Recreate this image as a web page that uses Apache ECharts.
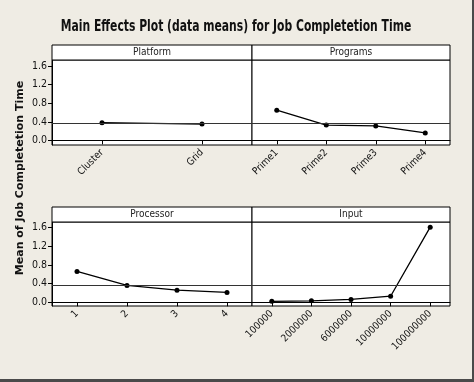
<!DOCTYPE html>
<html>
<head>
<meta charset="utf-8">
<script src="https://cdn.jsdelivr.net/npm/echarts@6/dist/echarts.min.js"></script>
<style>
html,body{margin:0;padding:0;background:#efece4;}
#c{width:474px;height:382px;}
</style>
</head>
<body>
<div id="c"></div>
<script>
var titleText = 'Main Effects Plot (data means) for Job Completetion Time';
var yAxisTitle = 'Mean of Job Completetion Time';
var panelNames = ['Platform', 'Programs', 'Processor', 'Input'];
var platformCats = ['Cluster', 'Grid'];
var platformMeans = [0.38, 0.35];
var programCats = ['Prime1', 'Prime2', 'Prime3', 'Prime4'];
var programMeans = [0.65, 0.33, 0.31, 0.16];
var processorCats = ['1', '2', '3', '4'];
var processorMeans = [0.66, 0.36, 0.26, 0.21];
var inputCats = ['100000', '2000000', '6000000', '10000000', '100000000'];
var inputMeans = [0.02, 0.03, 0.06, 0.13, 1.61];
var grandMean = 0.36;
var yTicks = [0, 0.4, 0.8, 1.2, 1.6];

var chart = echarts.init(document.getElementById('c'), null, {renderer: 'canvas'});
var FONT = '"DejaVu Sans Condensed", "DejaVu Sans", sans-serif';

var grids = [
  {left: 52, top: 60, width: 200, height: 85},
  {left: 252, top: 60, width: 198, height: 85},
  {left: 52, top: 222, width: 200, height: 84},
  {left: 252, top: 222, width: 198, height: 84}
];
var yRanges = [[-0.1, 1.73], [-0.1, 1.73], [-0.08, 1.72], [-0.08, 1.72]];
var cats = [platformCats, programCats, processorCats, inputCats];
var vals = [platformMeans, programMeans, processorMeans, inputMeans];

var xAxes = [], yAxes = [], series = [], graphics = [];
for (var i = 0; i < 4; i++) {
  grids[i].show = true;
  grids[i].borderColor = '#000';
  grids[i].borderWidth = 1;
  grids[i].backgroundColor = '#fff';
  xAxes.push({
    gridIndex: i, type: 'category', data: cats[i], boundaryGap: true,
    axisLine: {show: true, lineStyle: {color: '#000', width: 1}},
    axisTick: {show: true, alignWithLabel: true, length: 4, lineStyle: {color: '#000'}},
    axisLabel: {rotate: 45, margin: 6, fontSize: 10, fontFamily: FONT, color: '#111', interval: 0},
    splitLine: {show: false}
  });
  var leftCol = (i % 2 === 0);
  yAxes.push({
    gridIndex: i, type: 'value', min: yRanges[i][0], max: yRanges[i][1],
    axisLine: {show: leftCol, lineStyle: {color: '#000'}},
    axisTick: {show: leftCol, length: 4, customValues: yTicks, lineStyle: {color: '#000'}},
    axisLabel: {show: leftCol, customValues: yTicks, fontSize: 10.5, fontFamily: FONT, color: '#111', margin: 5,
      formatter: function (v) { return v.toFixed(1); }},
    splitLine: {show: false}
  });
  series.push({
    type: 'line', xAxisIndex: i, yAxisIndex: i, data: vals[i],
    symbol: 'circle', symbolSize: 5,
    lineStyle: {color: '#000', width: 1.3},
    itemStyle: {color: '#000'},
    silent: true,
    markLine: {
      silent: true, symbol: 'none', label: {show: false},
      lineStyle: {color: '#333', width: 1, type: 'solid'},
      data: [{yAxis: grandMean}]
    }
  });
  graphics.push({
    type: 'rect',
    shape: {x: grids[i].left, y: grids[i].top - 15, width: grids[i].width, height: 15},
    style: {fill: '#fff', stroke: '#000', lineWidth: 1},
    z: 10
  });
  graphics.push({
    type: 'text',
    x: grids[i].left + grids[i].width / 2, y: grids[i].top - 7.5,
    style: {text: panelNames[i], fill: '#222', font: '10px ' + FONT, textAlign: 'center', textVerticalAlign: 'middle'},
    z: 11
  });
}
graphics.push({
  type: 'text', x: 236, y: 27, scaleX: 0.8,
  style: {text: titleText, fill: '#111', font: 'bold 15px "DejaVu Sans Condensed", sans-serif', textAlign: 'center', textVerticalAlign: 'middle'},
  z: 11
});
graphics.push({
  type: 'text', x: 20, y: 178, rotation: Math.PI / 2,
  style: {text: yAxisTitle, fill: '#111', font: 'bold 11px "DejaVu Sans", sans-serif', textAlign: 'center', textVerticalAlign: 'middle'},
  z: 11
});
graphics.push({type: 'rect', shape: {x: 472, y: 0, width: 2, height: 382}, style: {fill: '#4a4a4a'}, z: 12});
graphics.push({type: 'rect', shape: {x: 0, y: 379, width: 474, height: 3}, style: {fill: '#4a4a4a'}, z: 12});

chart.setOption({
  backgroundColor: '#efece4',
  animation: false,
  grid: grids,
  xAxis: xAxes,
  yAxis: yAxes,
  series: series,
  graphic: graphics
});
</script>
</body>
</html>
